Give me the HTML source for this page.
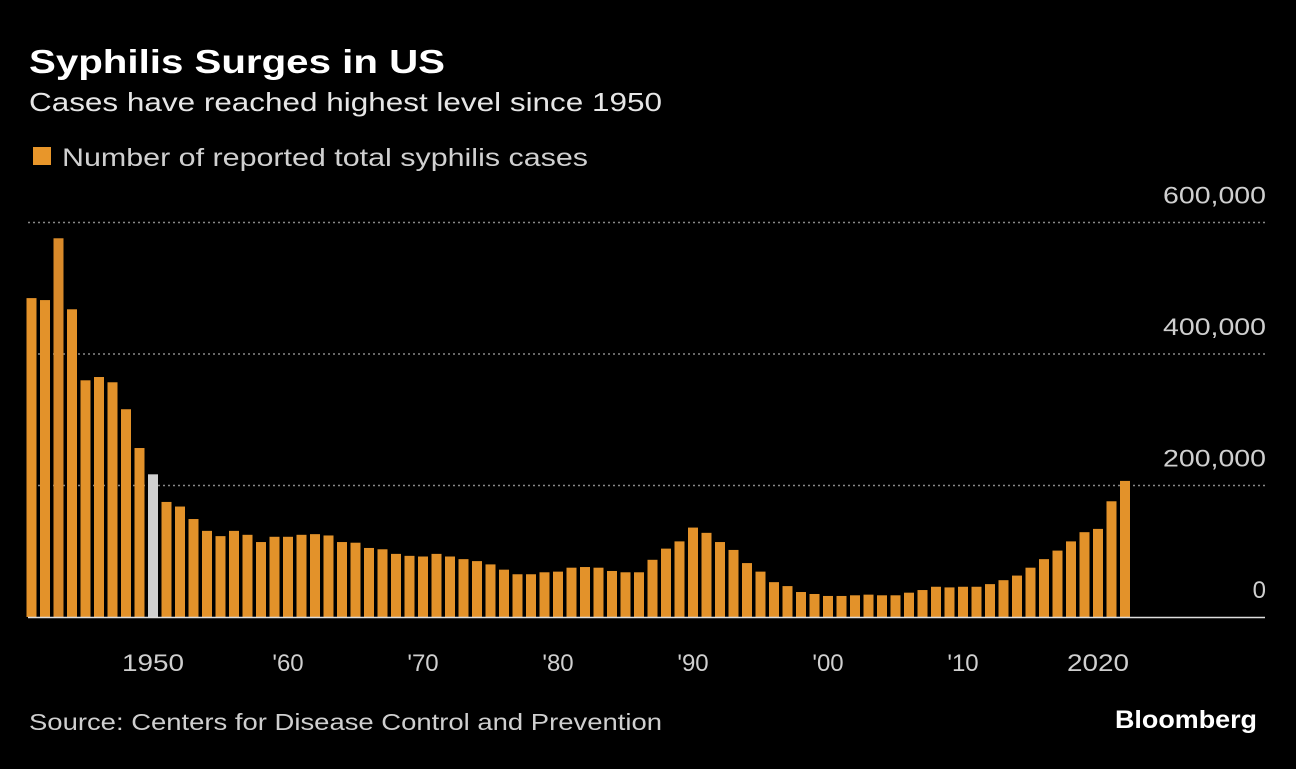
<!DOCTYPE html>
<html><head><meta charset="utf-8"><style>
body{margin:0;background:#000;width:1296px;height:764px;overflow:hidden;font-family:"Liberation Sans",sans-serif;}
</style></head><body>
<svg width="1296" height="764" xmlns="http://www.w3.org/2000/svg">
<text x="29" y="73" fill="#fff" font-size="33" font-weight="bold" textLength="416" lengthAdjust="spacingAndGlyphs">Syphilis Surges in US</text>
<text x="29" y="111" fill="#e6e6e6" font-size="26" textLength="633" lengthAdjust="spacingAndGlyphs">Cases have reached highest level since 1950</text>
<rect x="33" y="147" width="18" height="18" fill="#e8962a"/>
<text x="62" y="166" fill="#d0d0d0" font-size="25" textLength="526" lengthAdjust="spacingAndGlyphs">Number of reported total syphilis cases</text>
<g id="grid"></g><g id="bars"></g><g id="xlabels"></g>
<line x1="28" x2="1265" y1="617.5" y2="617.5" stroke="#ddd" stroke-width="1.5"/>
<text x="29" y="730" fill="#cfcfcf" font-size="23" textLength="633" lengthAdjust="spacingAndGlyphs">Source: Centers for Disease Control and Prevention</text>
<text x="1257" y="728" fill="#fff" font-size="25" font-weight="bold" text-anchor="end" textLength="142" lengthAdjust="spacingAndGlyphs">Bloomberg</text>
</svg>
<script>
const years=[];for(let y=1941;y<=2022;y++)years.push(y);
const cases=[485000,482000,576000,468000,360000,365000,357000,316000,257000,217000,
175000,168000,149000,131000,123000,131000,125000,114000,122000,122000,
125000,126000,124000,114000,113000,105000,103000,96000,93000,92000,
96000,92000,88000,85000,80000,72000,65000,65000,68000,69000,
75000,76000,75000,70000,68000,68000,87000,104000,115000,136000,
128000,114000,102000,82000,69000,53000,47000,38000,35000,32000,
32000,33000,34000,33000,33000,37000,41000,46000,45000,46000,
46000,50000,56000,63000,75000,88000,101000,115000,129000,134000,176000,207000];
const yTicks=[0,200000,400000,600000];
const yTickLabels=["0","200,000","400,000","600,000"];
const xTickYears=[1950,1960,1970,1980,1990,2000,2010,2020];
const xTickLabels=["1950","'60","'70","'80","'90","'00","'10","2020"];
const NS="http://www.w3.org/2000/svg";
const xs=y=>153+(y-1950)*13.5;
const ys=v=>617-v/200000*131.5;
const grid=document.getElementById('grid'),bars=document.getElementById('bars'),xl=document.getElementById('xlabels');
function mk(t,a){const e=document.createElementNS(NS,t);for(const k in a)e.setAttribute(k,a[k]);return e;}
yTicks.forEach((v,i)=>{
 if(v>0){const l=mk('line',{x1:28,x2:1265,y1:ys(v),y2:ys(v),stroke:'#888','stroke-width':1.5,'stroke-dasharray':'2,3'});
 
 
 grid.appendChild(l);}
 const a={x:1266,y:ys(v)-19,fill:'#cfcfcf','font-size':24,'text-anchor':'end'};
 if(v>0){a.textLength=103;a.lengthAdjust='spacingAndGlyphs';}
 const t=mk('text',a);
 t.textContent=yTickLabels[i];
 
 
 grid.appendChild(t);
});
years.forEach((y,i)=>{
 const r=mk('rect',{x:xs(y)-5,y:ys(cases[i]),width:10,height:617-ys(cases[i]),fill:y===1950?'#d0d0d0':(y===1943?'#d98a2a':'#e3922a')});
 
 
 bars.appendChild(r);
});
xTickYears.forEach((y,i)=>{
 const a={x:xs(y),y:671,fill:'#cfcfcf','font-size':24,'text-anchor':'middle'};
 if(xTickLabels[i].length===4){a.textLength=62;a.lengthAdjust='spacingAndGlyphs';}
 const t=mk('text',a);
 t.textContent=xTickLabels[i];
 
 
 xl.appendChild(t);
});
</script>
</body></html>
